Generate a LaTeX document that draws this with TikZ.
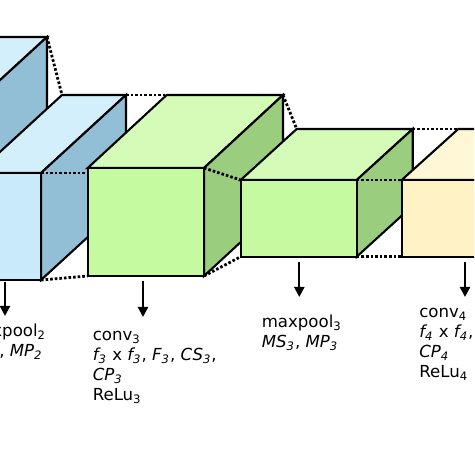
\documentclass[tikz,border=0pt]{standalone}
\usepackage{fontspec}
\setmainfont{DejaVu Sans}
\usetikzlibrary{arrows.meta}
\usepackage{xcolor}
\definecolor{bluefront}{RGB}{200,234,251}
\definecolor{bluetop}{RGB}{211,239,251}
\definecolor{blueside}{RGB}{147,191,214}
\definecolor{greenfront}{RGB}{198,250,160}
\definecolor{greentop}{RGB}{213,251,184}
\definecolor{greenside}{RGB}{154,205,126}
\definecolor{yellowfront}{RGB}{255,243,198}
\definecolor{yellowtop}{RGB}{255,247,213}
\definecolor{yellowside}{RGB}{232,214,150}
\newcommand{\lsub}[1]{\textsubscript{#1}}
% name, colour, front x, front y, width, height, depth x, depth y
\newcommand{\cnncube}[8]{%
  \coordinate (#1-ftl) at (#3,#4);
  \coordinate (#1-ftr) at ({#3+#5},#4);
  \coordinate (#1-fbl) at (#3,{#4+#6});
  \coordinate (#1-fbr) at ({#3+#5},{#4+#6});
  \coordinate (#1-btl) at ({#3+#7},{#4-#8});
  \coordinate (#1-btr) at ({#3+#5+#7},{#4-#8});
  \filldraw[fill=#2top] (#1-ftl) -- (#1-btl) -- (#1-btr) -- (#1-ftr) -- cycle;
  \filldraw[fill=#2side] (#1-ftr) -- (#1-btr) -- ++(0,#6) -- (#1-fbr) -- cycle;
  \filldraw[fill=#2front] (#1-ftl) rectangle (#1-fbr);
}
\tikzset{
  layer text/.style={anchor=north west, inner sep=0pt, align=left, font=\fontsize{8.3}{10}\selectfont},
  out arrow/.style={line width=1.1pt, -{Triangle[width=5pt,length=5pt]}},
  dotline/.style={line width=1.4pt, dash pattern=on 1.3pt off 1pt}
}

\begin{document}
\begin{tikzpicture}[x=0.5pt, y=-0.5pt, line width=1.05pt, line join=miter]
\fill[white] (0,0) rectangle (474,474);
\useasboundingbox (0,0) rectangle (474,474);
\clip (0,0) rectangle (474,474);

\cnncube{b1}{blue}{-160}{115}{122}{180}{85}{78}
\cnncube{b2}{blue}{-23}{173}{64}{107}{85}{78}
\cnncube{g1}{green}{87.7}{168}{116.3}{108}{79}{73}
\cnncube{g2}{green}{240.7}{180}{116}{76.7}{56}{51}
\cnncube{y1}{yellow}{401.7}{180}{116}{76.7}{56.6}{51}

\draw[dotline] (b1-btr) -- (b2-btl);
\draw[dotline] (b2-btr) -- (g1-btl);
\draw[dotline] (b2-ftr) -- (b2-ftr -| g1-ftl);
\draw[dotline] (b2-fbr) -- (g1-fbl);
\draw[dotline] (g1-btr) -- (g2-btl);
\draw[dotline] (g1-ftr) -- (g2-ftl);
\draw[dotline] (g1-fbr) -- (g2-fbl);
\draw[dotline] (g2-btr) -- (y1-btl);
\draw[dotline] (g2-ftr) -- (y1-ftl);
\draw[dotline] (g2-fbr) -- (y1-fbl);

\coordinate (b2-out) at (5,282);
\coordinate (b2-in) at (5,316);
\coordinate (g1-out) at (143,281);
\coordinate (g1-in) at (143,317);
\coordinate (g2-out) at (299.3,262);
\coordinate (g2-in) at (299.3,297);
\coordinate (y1-out) at (465,262);
\coordinate (y1-in) at (465,297);
\draw[out arrow] (b2-out) -- (b2-in);
\draw[out arrow] (g1-out) -- (g1-in);
\draw[out arrow] (g2-out) -- (g2-in);
\draw[out arrow] (y1-out) -- (y1-in);

\node[layer text] (b2-txt) at (-35,321.5) {\strut maxpool\lsub{2}\\\textit{MS\lsub{2}}, \textit{MP\lsub{2}}};
\node[layer text] (g1-txt) at (91.7,325.5) {\strut conv\lsub{3}\\\textit{f\lsub{3}} x \textit{f\lsub{3}}, \textit{F\lsub{3}}, \textit{CS\lsub{3}},\\\textit{CP\lsub{3}}\\ReLu\lsub{3}};
\node[layer text] (g2-txt) at (260.7,312) {\strut maxpool\lsub{3}\\\textit{MS\lsub{3}}, \textit{MP\lsub{3}}};
\node[layer text] (y1-txt) at (418.3,302) {\strut conv\lsub{4}\\\textit{f\lsub{4}} x \textit{f\lsub{4}}, \textit{F\lsub{4}}, \textit{CS\lsub{4}},\\\textit{CP\lsub{4}}\\ReLu\lsub{4}};
\end{tikzpicture}
\end{document}
